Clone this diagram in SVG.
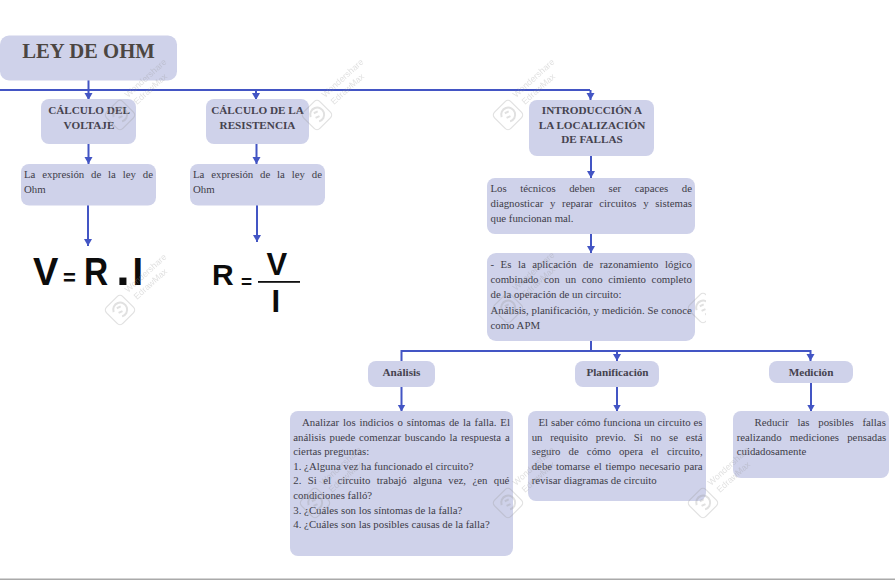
<svg xmlns="http://www.w3.org/2000/svg" xmlns:xlink="http://www.w3.org/1999/xlink" width="895" height="580" viewBox="0 0 895 580">
<style>
.box{fill:#cfd2ea}
.b{font-family:"Liberation Serif","Times New Roman",serif;font-size:10.8px;fill:#403d49}
.h{font-family:"Liberation Serif","Times New Roman",serif;font-size:11.200px;font-weight:bold;fill:#45424e;text-anchor:middle}
.f{font-family:"Liberation Sans",Arial,sans-serif;font-weight:bold;fill:#0c0c0c}
.c{fill:none;stroke:#4355c4;stroke-width:2}
.wt{font-family:"Liberation Sans",Arial,sans-serif;font-size:8.800px;fill:#999}
</style>
<defs>
<marker id="a" markerUnits="userSpaceOnUse" markerWidth="9" markerHeight="9" refX="7" refY="4" orient="auto"><path d="M0,0L7,4L0,8Z" fill="#4355c4"/></marker>
<clipPath id="cp"><rect x="680" y="270" width="26" height="80"/></clipPath>
<g id="wm">
<rect x="-11.500" y="-11.500" width="23" height="23" rx="4" transform="rotate(-45)" fill="none" stroke="#999" stroke-width="1.200"/>
<path d="M-6,-3A7,7 0 1 1 -3,6M-1,-3.500L3,-2M-3,1L1,2.500" fill="none" stroke="#999" stroke-width="2" transform="rotate(-45)"/>
<text class="wt" transform="translate(8,-17) rotate(-42)">Wondershare</text>
<text class="wt" transform="translate(17,-10) rotate(-42)">EdrawMax</text>
</g>
</defs>
<rect width="895" height="580" fill="#fff"/>
<rect y="578.500" width="895" height="1.500" fill="#aaa"/>

<g id="connectors">
<path class="c" d="M0,90H590"/>
<path class="c" d="M88.500,80V100" marker-end="url(#a)"/>
<path class="c" d="M256,90V100" marker-end="url(#a)"/>
<path class="c" d="M590.500,90V100" marker-end="url(#a)"/>
<path class="c" d="M88.500,144V164" marker-end="url(#a)"/>
<path class="c" d="M256.500,144V164" marker-end="url(#a)"/>
<path class="c" d="M88,205V246" marker-end="url(#a)"/>
<path class="c" d="M257,205V242" marker-end="url(#a)"/>
<path class="c" d="M591,156V178" marker-end="url(#a)"/>
<path class="c" d="M591,234V253" marker-end="url(#a)"/>
<path class="c" d="M591,341V351"/>
<path class="c" d="M401.500,361V351H810.500V361" marker-end="url(#a)"/>
<path class="c" d="M617,351V361" marker-end="url(#a)"/>
<path class="c" d="M401.500,387V411.500" marker-end="url(#a)"/>
<path class="c" d="M617,387V411.500" marker-end="url(#a)"/>
<path class="c" d="M811,383V411.500" marker-end="url(#a)"/>
</g>

<g id="n-title"><rect class="box" x="0" y="35.500" width="177" height="45" rx="9"/>
<text x="88.500" y="58" text-anchor="middle" style="font-family:'Liberation Serif',serif;font-size:20.700px;font-weight:bold;fill:#4c4642">LEY DE OHM</text></g>

<g id="n-voltaje"><rect class="box" x="41" y="99" width="95" height="45" rx="8"/>
<text class="h" x="89" y="113.500">CÁLCULO DEL</text><text class="h" x="89" y="129">VOLTAJE</text></g>

<g id="n-resistencia"><rect class="box" x="206" y="99" width="103" height="45" rx="8"/>
<text class="h" x="257.500" y="113.500">CÁLCULO DE LA</text><text class="h" x="257.500" y="129">RESISTENCIA</text></g>

<g id="n-expr1"><rect class="box" x="21" y="164" width="135" height="41.500" rx="8"/>
<text class="b" x="24" y="178" word-spacing="4.140">La expresión de la ley de</text><text class="b" x="24" y="193">Ohm</text></g>

<g id="n-expr2"><rect class="box" x="190" y="164" width="135" height="41.500" rx="8"/>
<text class="b" x="193" y="178" word-spacing="4.140">La expresión de la ley de</text><text class="b" x="193" y="193">Ohm</text></g>

<g id="n-f1">
<text class="f" x="33" y="285" font-size="38">V</text>
<text class="f" x="63" y="285" font-size="22">=</text>
<text class="f" transform="translate(84,285) scale(.88,1)" font-size="38">R</text>
<text class="f" x="116" y="285" font-size="50">.</text>
<text class="f" x="132.500" y="285" font-size="38">I</text>
</g>
<g id="n-f2">
<text class="f" x="212" y="285" font-size="30">R</text>
<text class="f" x="241" y="288" font-size="19">=</text>
<text class="f" x="266.500" y="275" font-size="31">V</text>
<rect x="258" y="281" width="42" height="1.800" fill="#111"/>
<text class="f" x="271.500" y="312" font-size="31">I</text>
</g>

<g id="n-intro"><rect class="box" x="529" y="100" width="125" height="56" rx="8"/>
<text class="h" x="592" y="114">INTRODUCCIÓN A</text><text class="h" x="592" y="129">LA LOCALIZACIÓN</text><text class="h" x="592" y="143">DE FALLAS</text></g>

<g id="n-tecnicos"><rect class="box" x="487" y="178" width="208" height="56" rx="8"/>
<text class="b" x="490.500" y="192" word-spacing="10.860">Los técnicos deben ser capaces de</text>
<text class="b" x="490.500" y="207" word-spacing="4">diagnosticar y reparar circuitos y sistemas</text>
<text class="b" x="490.500" y="222">que funcionan mal.</text></g>

<g id="n-aplicacion"><rect class="box" x="487" y="253" width="208" height="88" rx="9"/>
<text class="b" x="490.500" y="268" word-spacing="3.800">- Es la aplicación de razonamiento lógico</text>
<text class="b" x="490.500" y="283" word-spacing="2.900">combinado con un cono cimiento completo</text>
<text class="b" x="490.500" y="298">de la operación de un circuito:</text>
<text class="b" x="490.500" y="314" word-spacing="0.200">Análisis, planificación, y medición. Se conoce</text>
<text class="b" x="490.500" y="329">como APM</text></g>

<g id="n-analisis"><rect class="box" x="368" y="361" width="67" height="26" rx="8"/>
<text class="h" x="401.500" y="376">Análisis</text></g>
<g id="n-planificacion"><rect class="box" x="575" y="361" width="84" height="26" rx="8"/>
<text class="h" x="617.500" y="376">Planificación</text></g>
<g id="n-medicion"><rect class="box" x="769" y="361" width="84" height="22" rx="8"/>
<text class="h" x="811" y="376">Medición</text></g>

<g id="n-analizar"><rect class="box" x="290" y="411" width="223" height="145" rx="8"/>
<text class="b" x="302" y="426" word-spacing="1.140">Analizar los indicios o síntomas de la falla. El</text>
<text class="b" x="293.300" y="441" word-spacing="1.100">análisis puede comenzar buscando la respuesta a</text>
<text class="b" x="293.300" y="455">ciertas preguntas:</text>
<text class="b" x="293.300" y="470">1. ¿Alguna vez ha funcionado el circuito?</text>
<text class="b" x="293.300" y="484" word-spacing="3.700">2. Si el circuito trabajó alguna vez, ¿en qué</text>
<text class="b" x="293.300" y="499">condiciones falló?</text>
<text class="b" x="293.300" y="514">3. ¿Cuáles son los síntomas de la falla?</text>
<text class="b" x="293.300" y="528">4. ¿Cuáles son las posibles causas de la falla?</text></g>

<g id="n-saber"><rect class="box" x="528" y="411" width="178" height="90" rx="8"/>
<text class="b" x="538.500" y="426" word-spacing="0.130">El saber cómo funciona un circuito es</text>
<text class="b" x="531.700" y="441" word-spacing="5.050">un requisito previo. Si no se está</text>
<text class="b" x="531.700" y="455" word-spacing="5.400">seguro de cómo opera el circuito,</text>
<text class="b" x="531.700" y="470" word-spacing="1.140">debe tomarse el tiempo necesario para</text>
<text class="b" x="531.700" y="484">revisar diagramas de circuito</text></g>

<g id="n-reducir"><rect class="box" x="733" y="411" width="156" height="67" rx="8"/>
<text class="b" x="754.500" y="426" word-spacing="6.100">Reducir las posibles fallas</text>
<text class="b" x="736.700" y="441" word-spacing="5.500">realizando mediciones pensadas</text>
<text class="b" x="736.700" y="455">cuidadosamente</text></g>

<g id="watermarks" opacity="0.300">
<use xlink:href="#wm" href="#wm" x="120" y="115"/>
<use xlink:href="#wm" href="#wm" x="317" y="115"/>
<use xlink:href="#wm" href="#wm" x="508" y="115"/>
<use xlink:href="#wm" href="#wm" x="120" y="310"/>
<use xlink:href="#wm" href="#wm" x="508" y="308"/>
<g clip-path="url(#cp)"><use xlink:href="#wm" href="#wm" x="703" y="308"/></g>
<use xlink:href="#wm" href="#wm" x="315" y="503"/>
<use xlink:href="#wm" href="#wm" x="508" y="503"/>
<use xlink:href="#wm" href="#wm" x="703" y="503"/>
</g>
</svg>
